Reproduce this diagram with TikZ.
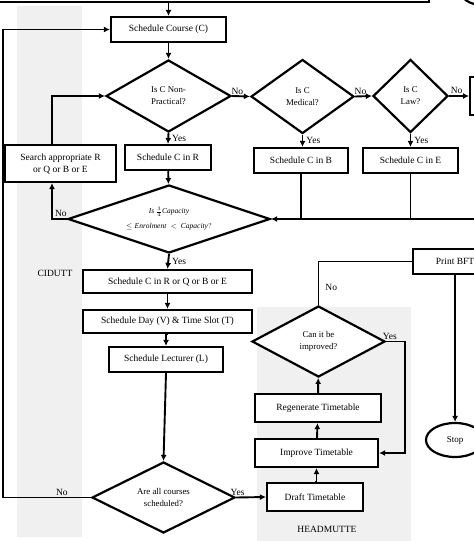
\documentclass[tikz,border=0pt]{standalone}
\usepackage{fontspec}
\setmainfont{Liberation Serif}
\usepackage{amsmath}
\usetikzlibrary{arrows.meta,shapes.geometric}

\begin{document}
\begin{tikzpicture}[x=1pt,y=-1pt,
	box/.style={draw,line width=2.2pt,fill=white,inner sep=1pt,align=center,font=\fontsize{9.5}{12}\selectfont},
	dec/.style={diamond,draw,line width=2.2pt,fill=white,inner sep=0pt,aspect=1.7,align=center,font=\fontsize{8.8}{12}\selectfont},
	term/.style={ellipse,draw,line width=2.2pt,fill=white,inner sep=0pt,font=\fontsize{9}{11}\selectfont},
	arr/.style={line width=1.9pt,-{Latex[length=6pt,width=6pt]}},
	ln/.style={line width=1.9pt},
	lbl/.style={font=\fontsize{9.5}{11}\selectfont,inner sep=1pt}]
		\useasboundingbox (0,0) rectangle (474,541);
		\clip (0,0) rectangle (474,541);
		\fill[gray!12] (17,6) rectangle (82,537);
		\fill[gray!12] (257,307) rectangle (411,541);
		\node[lbl] (cid) at (55,273) {CIDUTT};
		\node[lbl] (head) at (327,529) {HEADMUTTE};

		\node[draw,line width=2.2pt,minimum width=500pt,minimum height=40pt,anchor=south east] (prev) at (430,3) {};
		\node[term,minimum width=44pt,minimum height=30pt] (start) at (482,-10) {};
		\node[box,minimum width=115pt,minimum height=25pt] (course) at (168.5,29.5) {Schedule Course (C)};
		\node[dec,minimum width=125pt,minimum height=72pt] (nonp) at (168.5,96) {Is C Non-\\Practical?};
		\node[dec,minimum width=103pt,minimum height=74pt] (med) at (302.5,96.5) {Is C\\Medical?};
		\node[dec,minimum width=75pt,minimum height=73pt,aspect=1] (law) at (410.5,96) {Is C\\Law?};
		\node[box,minimum width=60pt,minimum height=38pt,anchor=west] (next) at (469,96) {};
		\node[box,minimum width=111pt,minimum height=37pt] (search) at (60.5,163.5) {Search appropriate R\\or Q or B or E};
		\node[box,minimum width=86pt,minimum height=25pt] (inR) at (168,157.5) {Schedule C in R};
		\node[box,minimum width=94pt,minimum height=25pt] (inB) at (301,160.5) {Schedule C in B};
		\node[box,minimum width=95pt,minimum height=25pt] (inE) at (410.5,160.5) {Schedule C in E};
		\node[dec,minimum width=202pt,minimum height=68pt,aspect=3,font=\fontsize{7.5}{15}\selectfont] (cap) at (169,219)
			{$\mathit{Is}\ \tfrac{3}{4}\mathit{Capacity}$\\$\leq\mathit{Enrolment}\ <\ \mathit{Capacity?}$};
		\node[box,minimum width=169pt,minimum height=23pt] (any) at (167.5,281.5) {Schedule C in R or Q or B or E};
		\node[box,minimum width=169pt,minimum height=23pt] (day) at (167.5,321.5) {Schedule Day (V) \& Time Slot (T)};
		\node[box,minimum width=114pt,minimum height=25pt] (lect) at (166,359.5) {Schedule Lecturer (L)};
		\node[dec,minimum width=143pt,minimum height=71pt,aspect=2] (all) at (163.5,497.5) {Are all courses\\scheduled?};
		\node[box,minimum width=96pt,minimum height=28pt] (draft) at (315,497) {Draft Timetable};
		\node[box,minimum width=123pt,minimum height=28pt] (impr) at (316.5,453) {Improve Timetable};
		\node[box,minimum width=126pt,minimum height=28pt] (regen) at (318,408) {Regenerate Timetable};
		\node[dec,minimum width=133pt,minimum height=71pt] (canimp) at (318.5,341.5) {Can it be\\improved?};
		\node[box,minimum width=84pt,minimum height=25pt,anchor=west] (print) at (412,261.5) {Print BFT};
		\node[term,minimum width=58pt,minimum height=34pt] (stop) at (455,440) {Stop};

		\coordinate (rgt) at (490,219);
		\coordinate (lft) at (3,497.5);
		\coordinate (yr) at (405,341.5);

		\draw[arr] (course.north |- prev.south) -- (course.north);
		\draw[arr] (course) -- (nonp);
		\draw[arr] (nonp.east) -- (med.west) node[lbl,above,pos=0.3]{No};
		\draw[arr] (med.east) -- (law.west) node[lbl,above,pos=0.32]{No};
		\draw[arr] (law.east) -- (next.west) node[lbl,above,pos=0.38]{No};
		\draw[arr] (nonp.south) -- (inR.north) node[lbl,right,midway,xshift=2pt]{Yes};
		\draw[arr] (med.south) -- (med.south |- inB.north) node[lbl,right,midway,xshift=2pt]{Yes};
		\draw[arr] (law.south) -- (inE.north) node[lbl,right,midway,xshift=2pt]{Yes};
		\draw[arr] (inR) -- (cap);
		\draw[ln] (inB.south) -- (inB.south |- cap.east);
		\draw[ln] (inE.south) -- (inE.south |- cap.east);
		\draw[arr] (rgt) -- (cap.east);
		\draw[arr] (cap.west) -| ([xshift=-8.5pt]search.south) node[lbl,above,pos=0.2]{No};
		\draw[arr] ([xshift=-8.5pt]search.north) |- (nonp.west);
		\draw[arr] (cap.south) -- (any.north) node[lbl,right,midway,xshift=2pt]{Yes};
		\draw[arr] (any) -- (day);
		\draw[arr] (day.south) -- (day.south -| lect.north) -- (lect.north);
		\draw[arr] (lect.south) -- (all.north);
		\draw[arr] (all.west) -- node[lbl,above,pos=0.33]{No} (lft) |- (course.west);
		\draw[arr] (all.east) -- (draft.west) node[lbl,above,pos=0.05]{Yes};
		\draw[arr] (draft.north) -- (draft.north -| impr.south) -- (impr.south);
		\draw[arr] (impr) -- (regen);
		\draw[arr] (regen) -- (canimp);
		\draw[arr] (canimp.east) -- node[lbl,above,pos=0.2]{Yes} (yr) |- (impr.east);
		\draw[ln] (canimp.north) |- (print.west) node[lbl,right,pos=0.2,xshift=5pt]{No};
		\draw[arr] (print.south) -- (stop.north -| print.south);
\end{tikzpicture}
\end{document}
